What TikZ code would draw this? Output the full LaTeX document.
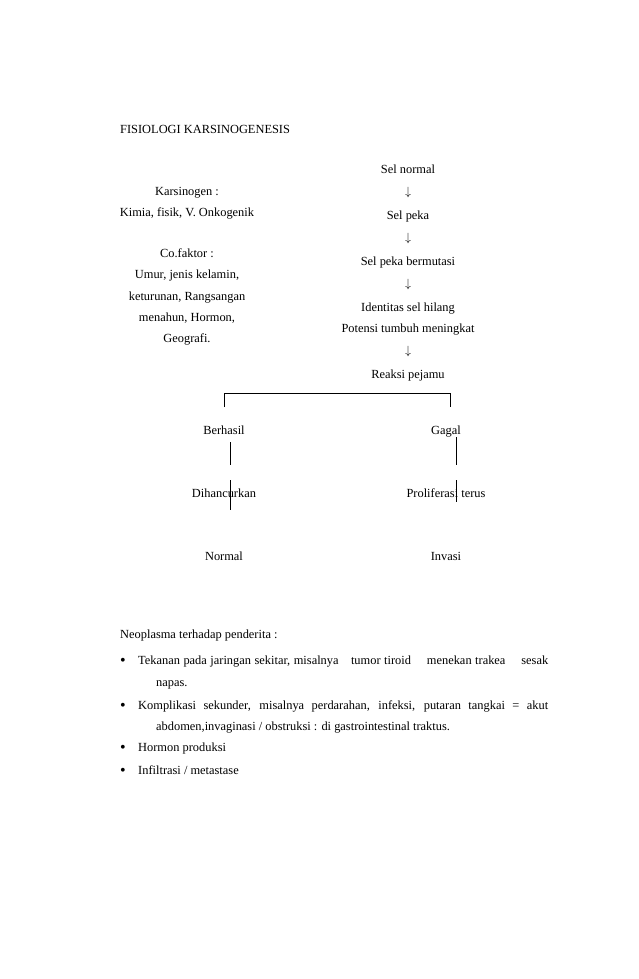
\documentclass[tikz,border=0pt]{standalone}
\usepackage{fontspec}
\setmainfont{Liberation Serif}
\begin{document}
\begin{tikzpicture}[x=1pt,y=-1pt,
  txt/.style={inner sep=0pt,anchor=base,font=\fontsize{12.4}{15}\selectfont},
  ltxt/.style={txt,anchor=base west},
  arr/.style={txt,font=\fontsize{12.4}{15}\selectfont},
  bul/.style={inner sep=0pt,anchor=base,font=\fontsize{16}{16}\selectfont},
  ln/.style={line width=0.8pt,black}]
\useasboundingbox (0,0) rectangle (638,979);
\node[ltxt] (title) at (120,133) {FISIOLOGI KARSINOGENESIS};
% right chain
\node[txt] (n1) at (408,173) {Sel normal};
\node[arr] (a1) at (408,195) {$\downarrow$};
\node[txt] (n2) at (408,219) {Sel peka};
\node[arr] (a2) at (408,241) {$\downarrow$};
\node[txt] (n3) at (408,265) {Sel peka bermutasi};
\node[arr] (a3) at (408,287) {$\downarrow$};
\node[txt] (n4) at (408,311) {Identitas sel hilang};
\node[txt] (n5) at (408,332) {Potensi tumbuh meningkat};
\node[arr] (a4) at (408,354) {$\downarrow$};
\node[txt] (n6) at (408,378) {Reaksi pejamu};
% left block
\node[txt] (k1) at (187,195) {Karsinogen :};
\node[txt] (k2) at (187,216) {Kimia, fisik, V. Onkogenik};
\node[txt] (c1) at (187,257) {Co.faktor :};
\node[txt] (c2) at (187,278) {Umur, jenis kelamin,};
\node[txt] (c3) at (187,300) {keturunan, Rangsangan};
\node[txt] (c4) at (187,321) {menahun, Hormon,};
\node[txt] (c5) at (187,342) {Geografi.};
% branches
\node[txt] (b1) at (224,434) {Berhasil};
\node[txt] (g1) at (446,434) {Gagal};
\node[txt] (b2) at (224,497) {Dihancurkan};
\node[txt] (g2) at (446,497) {Proliferasi terus};
\node[txt] (b3) at (224,560) {Normal};
\node[txt] (g3) at (446,560) {Invasi};
\coordinate (bl) at (224,407);
\coordinate (br) at (450,407);
\draw[ln] (bl) -- (224,393) -- (450,393) -- (br);
\coordinate (l1a) at (230,442); \coordinate (l1b) at (230,465);
\coordinate (r1a) at (456,437); \coordinate (r1b) at (456,465);
\coordinate (l2a) at (230,480); \coordinate (l2b) at (230,510);
\coordinate (r2a) at (456,480); \coordinate (r2b) at (456,502);
\draw[ln] (l1a) -- (l1b);
\draw[ln] (r1a) -- (r1b);
\draw[ln] (l2a) -- (l2b);
\draw[ln] (r2a) -- (r2b);
% bottom list
\node[ltxt] (neo) at (120,638) {Neoplasma terhadap penderita :};
\node[bul] (d1) at (123,665) {\textbullet};
\node[ltxt] (t1) at (138,664) {\makebox[410pt][s]{Tekanan pada jaringan sekitar, misalnya\quad tumor tiroid\quad\ menekan trakea\quad\ sesak}};
\node[ltxt] (t1b) at (156,686) {napas.};
\node[bul] (d2) at (123,710) {\textbullet};
\node[ltxt] (t2) at (138,709) {\makebox[410pt][s]{Komplikasi sekunder, misalnya perdarahan, infeksi, putaran tangkai = akut}};
\node[ltxt] (t2b) at (156,730) {abdomen,invaginasi / obstruksi : di gastrointestinal traktus.};
\node[bul] (d3) at (123,752) {\textbullet};
\node[ltxt] (t3) at (138,751) {Hormon produksi};
\node[bul] (d4) at (123,775) {\textbullet};
\node[ltxt] (t4) at (138,774) {Infiltrasi / metastase};
\end{tikzpicture}
\end{document}
